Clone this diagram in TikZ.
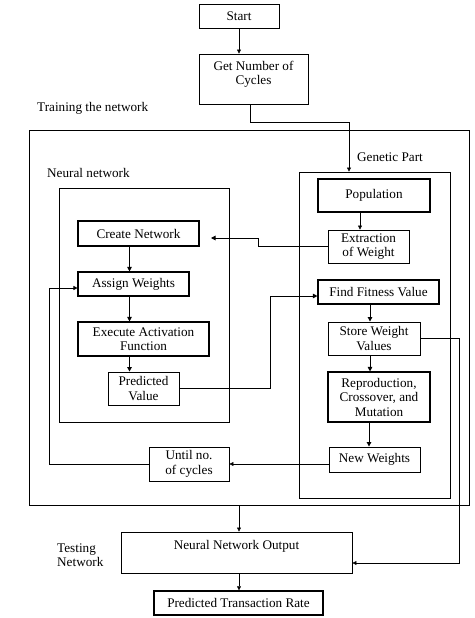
\documentclass[tikz,border=0pt]{standalone}
\usepackage{fontspec}
\setmainfont{Liberation Serif}
\usetikzlibrary{arrows.meta}
\begin{document}
\begin{tikzpicture}[x=1pt,y=-1pt,
  txt/.style={font=\fontsize{13.2}{14.5}\selectfont},
  box/.style={draw, line width=0.9pt, inner sep=1pt, align=center, txt},
  frame/.style={draw, line width=0.8pt, inner sep=0pt},
  conn/.style={line width=0.6pt, -{Triangle[length=4pt,width=4pt]}},
  connb/.style={line width=1pt, -{Triangle[length=4.5pt,width=4.5pt]}}]
\useasboundingbox (0,0) rectangle (474,618);
% frames
\node[frame, minimum width=440pt, minimum height=375pt] (train) at (249,317.5) {};
\node[frame, minimum width=151pt, minimum height=326pt] (gp) at (374.5,335) {};
\node[frame, minimum width=170pt, minimum height=234pt] (nn) at (144,305) {};
% labels
\node[txt, anchor=west, inner sep=0pt] (ltrain) at (37,108) {Training the network};
\node[txt, anchor=west, inner sep=0pt] (lgp) at (357,157) {Genetic Part};
\node[txt, anchor=west, inner sep=0pt] (lnn) at (47,173) {Neural network};
\node[txt, anchor=west, inner sep=0pt, align=left] (ltest) at (57,555) {Testing\\Network};
% top
\node[box, minimum width=80pt, minimum height=24pt] (start) at (239,16) {Start};
\node[box, minimum width=109pt, minimum height=50pt,
  label={[txt, anchor=north, align=center, yshift=-4pt]north:Get Number of\\Cycles}] (gnc) at (253.5,79) {};
% genetic part
\node[box, line width=1.1pt, minimum width=112pt, minimum height=33pt] (pop) at (374,195.5) {Population};
\node[box, minimum width=81pt, minimum height=33pt] (ext) at (368.5,246.5) {Extraction\\of Weight};
\node[box, line width=1.1pt, minimum width=121pt, minimum height=24pt] (ff) at (378.5,292) {Find Fitness Value};
\node[box, minimum width=92pt, minimum height=33pt] (sw) at (374,338.5) {Store Weight\\Values};
\node[box, line width=1.1pt, minimum width=102pt, minimum height=50pt] (rep) at (379,397) {Reproduction,\\Crossover, and\\Mutation};
\node[box, minimum width=91pt, minimum height=25pt] (nw) at (374.5,459.5) {New Weights};
% neural network
\node[box, line width=1.1pt, minimum width=121pt, minimum height=25pt] (cn) at (138.5,233.5) {Create Network};
\node[box, line width=1.1pt, minimum width=111pt, minimum height=24pt] (aw) at (133.5,284) {Assign Weights};
\node[box, line width=1.1pt, minimum width=131pt, minimum height=34pt] (eaf) at (143.5,339) {Execute Activation\\Function};
\node[box, minimum width=71pt, minimum height=33pt] (pv) at (143.5,388.5) {Predicted\\Value};
\node[box, minimum width=80pt, minimum height=34pt] (until) at (189,464) {Until no.\\of cycles};
% testing
\node[box, minimum width=231pt, minimum height=41pt,
  label={[txt, anchor=north, yshift=-5pt]north:Neural Network Output}] (nno) at (236.5,552.5) {};
\node[box, line width=1.4pt, minimum width=169pt, minimum height=24pt] (ptr) at (238.5,603) {Predicted Transaction Rate};
% coordinates
\coordinate (c1) at (250,122);
\coordinate (e1) at (258,238);
\coordinate (cnin) at (211,238);
\coordinate (p1) at (270,296);
\coordinate (r1) at (459,563);
\coordinate (l1) at (49,288);
% connectors
\draw[conn] (start.south) -- (start.south |- gnc.north);
\draw[conn] ([xshift=-3.5pt]gnc.south) |- (c1) -| ([xshift=-25.5pt]gp.north);
\draw[conn] ([xshift=-14pt]pop.south) -- ([xshift=-8.5pt]ext.north);
\draw[connb] (ext.west) -| (e1) -- (cnin);
\draw[connb] ([xshift=-8.5pt]ff.south) -- ([xshift=-4pt]sw.north);
\draw[connb] ([xshift=-4pt]sw.south) -- ([xshift=-9pt]rep.north);
\draw[connb] ([xshift=-10pt]rep.south) -- ([xshift=-5.5pt]nw.north);
\draw[conn] (sw.east) -| (r1) -- (r1 -| nno.east);
\draw[connb] ([xshift=-9pt]cn.south) -- ([xshift=-4pt]aw.north);
\draw[connb] ([xshift=-4pt]aw.south) -- ([xshift=-14pt]eaf.north);
\draw[connb] ([xshift=-14pt]eaf.south) -- ([xshift=-14pt]pv.north);
\draw[connb] (pv.east) -| (p1) -- (p1 -| ff.west);
\draw[conn] ([yshift=-4.5pt]nw.west) -- (until.east);
\draw[conn] (until.west) -| (l1) -- ([yshift=-4pt]aw.west);
\draw[conn] ([xshift=-10pt]train.south) -- ([xshift=2.5pt]nno.north);
\draw[conn] ([xshift=2.5pt]nno.south) -- ([xshift=0.5pt]ptr.north);
\end{tikzpicture}
\end{document}
